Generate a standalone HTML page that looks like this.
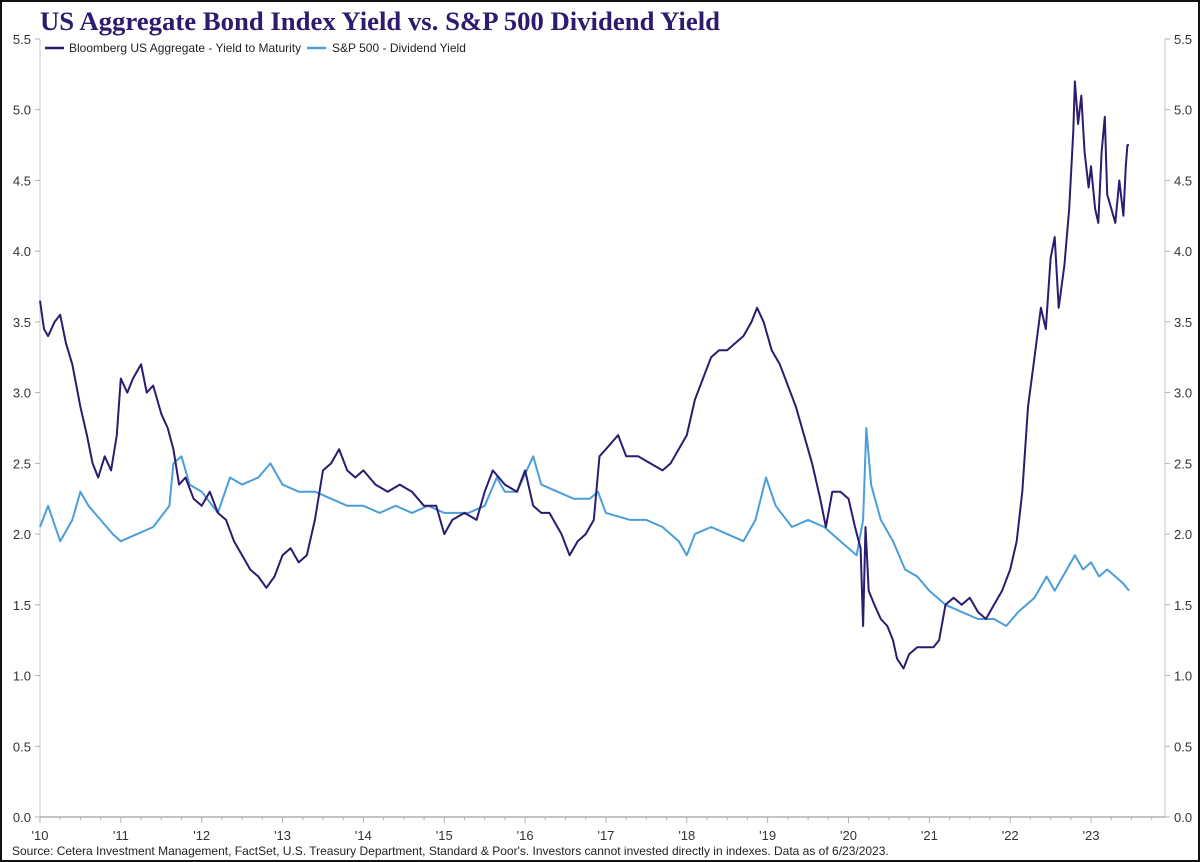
<!DOCTYPE html>
<html><head><meta charset="utf-8"><style>
body{margin:0;background:#fff;}
#wrap{width:1200px;height:862px;position:relative;box-sizing:border-box;border:2px solid #111;overflow:hidden;background:#fff;}
svg{position:absolute;left:0;top:0;}
</style></head><body>
<div id="wrap">
<svg id="chart" width="1200" height="862">
<text x="38" y="28" font-family="Liberation Serif, serif" font-weight="bold" font-size="26.5" fill="#2e1a6e" textLength="680" lengthAdjust="spacingAndGlyphs">US Aggregate Bond Index Yield vs. S&amp;P 500 Dividend Yield</text>
<g>
<line x1="43" y1="46" x2="62" y2="46" stroke="#2e1a6e" stroke-width="2.5"/>
<text x="67" y="50" font-family="Liberation Sans, sans-serif" font-size="12" fill="#222">Bloomberg US Aggregate - Yield to Maturity</text>
<line x1="305" y1="46" x2="324" y2="46" stroke="#4a9fd8" stroke-width="2.5"/>
<text x="330" y="50" font-family="Liberation Sans, sans-serif" font-size="12" fill="#222">S&amp;P 500 - Dividend Yield</text>
</g>
<text x="10" y="853" font-family="Liberation Sans, sans-serif" font-size="12" fill="#222">Source: Cetera Investment Management, FactSet, U.S. Treasury Department, Standard &amp; Poor's. Investors cannot invested directly in indexes. Data as of 6/23/2023.</text>
</svg>
</div>
<script>
const yTicks=[0,0.5,1.0,1.5,2.0,2.5,3.0,3.5,4.0,4.5,5.0,5.5];
const yearLabels=["'10","'11","'12","'13","'14","'15","'16","'17","'18","'19","'20","'21","'22","'23"];
const bondT=[2010.0,2010.05,2010.1,2010.18,2010.25,2010.32,2010.4,2010.5,2010.58,2010.65,2010.72,2010.8,2010.88,2010.95,2011.0,2011.08,2011.15,2011.25,2011.32,2011.4,2011.5,2011.58,2011.65,2011.72,2011.8,2011.9,2012.0,2012.1,2012.2,2012.3,2012.4,2012.5,2012.6,2012.7,2012.8,2012.9,2013.0,2013.1,2013.2,2013.3,2013.4,2013.5,2013.6,2013.7,2013.8,2013.9,2014.0,2014.15,2014.3,2014.45,2014.6,2014.75,2014.9,2015.0,2015.1,2015.25,2015.4,2015.5,2015.6,2015.75,2015.9,2016.0,2016.1,2016.2,2016.3,2016.45,2016.55,2016.65,2016.75,2016.85,2016.92,2017.0,2017.15,2017.25,2017.4,2017.55,2017.7,2017.8,2017.9,2018.0,2018.1,2018.2,2018.3,2018.4,2018.5,2018.6,2018.7,2018.8,2018.87,2018.95,2019.05,2019.15,2019.25,2019.35,2019.45,2019.55,2019.65,2019.72,2019.8,2019.9,2020.0,2020.08,2020.15,2020.18,2020.21,2020.25,2020.32,2020.4,2020.48,2020.55,2020.6,2020.68,2020.75,2020.85,2020.95,2021.05,2021.12,2021.2,2021.3,2021.4,2021.5,2021.6,2021.7,2021.8,2021.9,2022.0,2022.08,2022.15,2022.22,2022.3,2022.38,2022.44,2022.5,2022.55,2022.6,2022.67,2022.73,2022.78,2022.8,2022.84,2022.88,2022.92,2022.97,2023.0,2023.05,2023.09,2023.13,2023.17,2023.2,2023.25,2023.3,2023.35,2023.4,2023.43,2023.45,2023.47];
const bondV=[3.65,3.45,3.4,3.5,3.55,3.35,3.2,2.9,2.7,2.5,2.4,2.55,2.45,2.7,3.1,3.0,3.1,3.2,3.0,3.05,2.85,2.75,2.6,2.35,2.4,2.25,2.2,2.3,2.15,2.1,1.95,1.85,1.75,1.7,1.62,1.7,1.85,1.9,1.8,1.85,2.1,2.45,2.5,2.6,2.45,2.4,2.45,2.35,2.3,2.35,2.3,2.2,2.2,2.0,2.1,2.15,2.1,2.3,2.45,2.35,2.3,2.45,2.2,2.15,2.15,2.0,1.85,1.95,2.0,2.1,2.55,2.6,2.7,2.55,2.55,2.5,2.45,2.5,2.6,2.7,2.95,3.1,3.25,3.3,3.3,3.35,3.4,3.5,3.6,3.5,3.3,3.2,3.05,2.9,2.7,2.5,2.25,2.05,2.3,2.3,2.25,2.05,1.9,1.35,2.05,1.6,1.5,1.4,1.35,1.25,1.12,1.05,1.15,1.2,1.2,1.2,1.25,1.5,1.55,1.5,1.55,1.45,1.4,1.5,1.6,1.75,1.95,2.3,2.9,3.25,3.6,3.45,3.95,4.1,3.6,3.9,4.3,4.85,5.2,4.9,5.1,4.7,4.45,4.6,4.3,4.2,4.7,4.95,4.4,4.3,4.2,4.5,4.25,4.6,4.75,4.75];
const spT=[2010.0,2010.1,2010.25,2010.4,2010.5,2010.6,2010.75,2010.9,2011.0,2011.2,2011.4,2011.6,2011.65,2011.75,2011.85,2012.0,2012.2,2012.35,2012.5,2012.7,2012.85,2013.0,2013.2,2013.4,2013.6,2013.8,2014.0,2014.2,2014.4,2014.6,2014.8,2015.0,2015.3,2015.5,2015.65,2015.75,2015.9,2016.1,2016.2,2016.4,2016.6,2016.8,2016.9,2017.0,2017.3,2017.5,2017.7,2017.9,2018.0,2018.1,2018.3,2018.5,2018.7,2018.85,2018.98,2019.1,2019.3,2019.5,2019.7,2019.9,2020.1,2020.18,2020.22,2020.28,2020.4,2020.55,2020.7,2020.85,2021.0,2021.2,2021.4,2021.6,2021.8,2021.95,2022.1,2022.3,2022.45,2022.55,2022.7,2022.8,2022.9,2023.0,2023.1,2023.2,2023.3,2023.4,2023.47];
const spV=[2.05,2.2,1.95,2.1,2.3,2.2,2.1,2.0,1.95,2.0,2.05,2.2,2.5,2.55,2.35,2.3,2.15,2.4,2.35,2.4,2.5,2.35,2.3,2.3,2.25,2.2,2.2,2.15,2.2,2.15,2.2,2.15,2.15,2.2,2.4,2.3,2.3,2.55,2.35,2.3,2.25,2.25,2.3,2.15,2.1,2.1,2.05,1.95,1.85,2.0,2.05,2.0,1.95,2.1,2.4,2.2,2.05,2.1,2.05,1.95,1.85,2.1,2.75,2.35,2.1,1.95,1.75,1.7,1.6,1.5,1.45,1.4,1.4,1.35,1.45,1.55,1.7,1.6,1.75,1.85,1.75,1.8,1.7,1.75,1.7,1.65,1.6];

const NS='http://www.w3.org/2000/svg';
const svg=document.getElementById('chart');
const X0=38,X1=1163,Y0=815,YTOP=37,PX_YEAR=80.85;
function xS(t){return X0+(t-2010)*PX_YEAR;}
function yS(v){return Y0-(v/5.5)*(Y0-YTOP);}
function mk(tag,attrs){const e=document.createElementNS(NS,tag);for(const k in attrs)e.setAttribute(k,attrs[k]);svg.appendChild(e);return e;}
let a=mk('line',{x1:X0,y1:YTOP,x2:X0,y2:Y0,stroke:'#c8c8c8','stroke-width':1});


a=mk('line',{x1:X1,y1:YTOP,x2:X1,y2:Y0,stroke:'#c8c8c8','stroke-width':1});


a=mk('line',{x1:X0,y1:Y0,x2:X1,y2:Y0,stroke:'#b0b0b0','stroke-width':1.5});


yTicks.forEach(v=>{
  const y=yS(v);
  let t=mk('line',{x1:X0-5,y1:y,x2:X0,y2:y,stroke:'#b0b0b0'});
  
  
  t=mk('line',{x1:X1,y1:y,x2:X1+5,y2:y,stroke:'#b0b0b0'});
  
  
  let l=mk('text',{x:X0-9,y:y+5,'text-anchor':'end','font-family':'Liberation Sans, sans-serif','font-size':13,fill:'#333'});
  l.textContent=v.toFixed(1);
  
  
  l=mk('text',{x:X1+9,y:y+5,'font-family':'Liberation Sans, sans-serif','font-size':13,fill:'#333'});
  l.textContent=v.toFixed(1);
  
  
});
for(let q=0;q<56;q++){
  const x=xS(2010+q/4);
  if(x>X1)break;
  const t=mk('line',{x1:x,y1:Y0,x2:x,y2:Y0+(q%4===0?6:3),stroke:'#b0b0b0'});
  
  
}
yearLabels.forEach((s,i)=>{
  const l=mk('text',{x:xS(2010+i),y:Y0+23,'text-anchor':'middle','font-family':'Liberation Sans, sans-serif','font-size':13,fill:'#333'});
  l.textContent=s;
  
  
});
function line(T,V,color,name){
  const d=T.map((t,i)=>(i?'L':'M')+xS(t).toFixed(1)+','+yS(V[i]).toFixed(1)).join('');
  const p=mk('path',{d:d,fill:'none',stroke:color,'stroke-width':2,'stroke-linejoin':'round'});
  
  
}
line(spT,spV,'#4a9fd8','sp500-dividend-yield-line');
line(bondT,bondV,'#2e1a6e','bond-yield-line');
</script>
</body></html>
